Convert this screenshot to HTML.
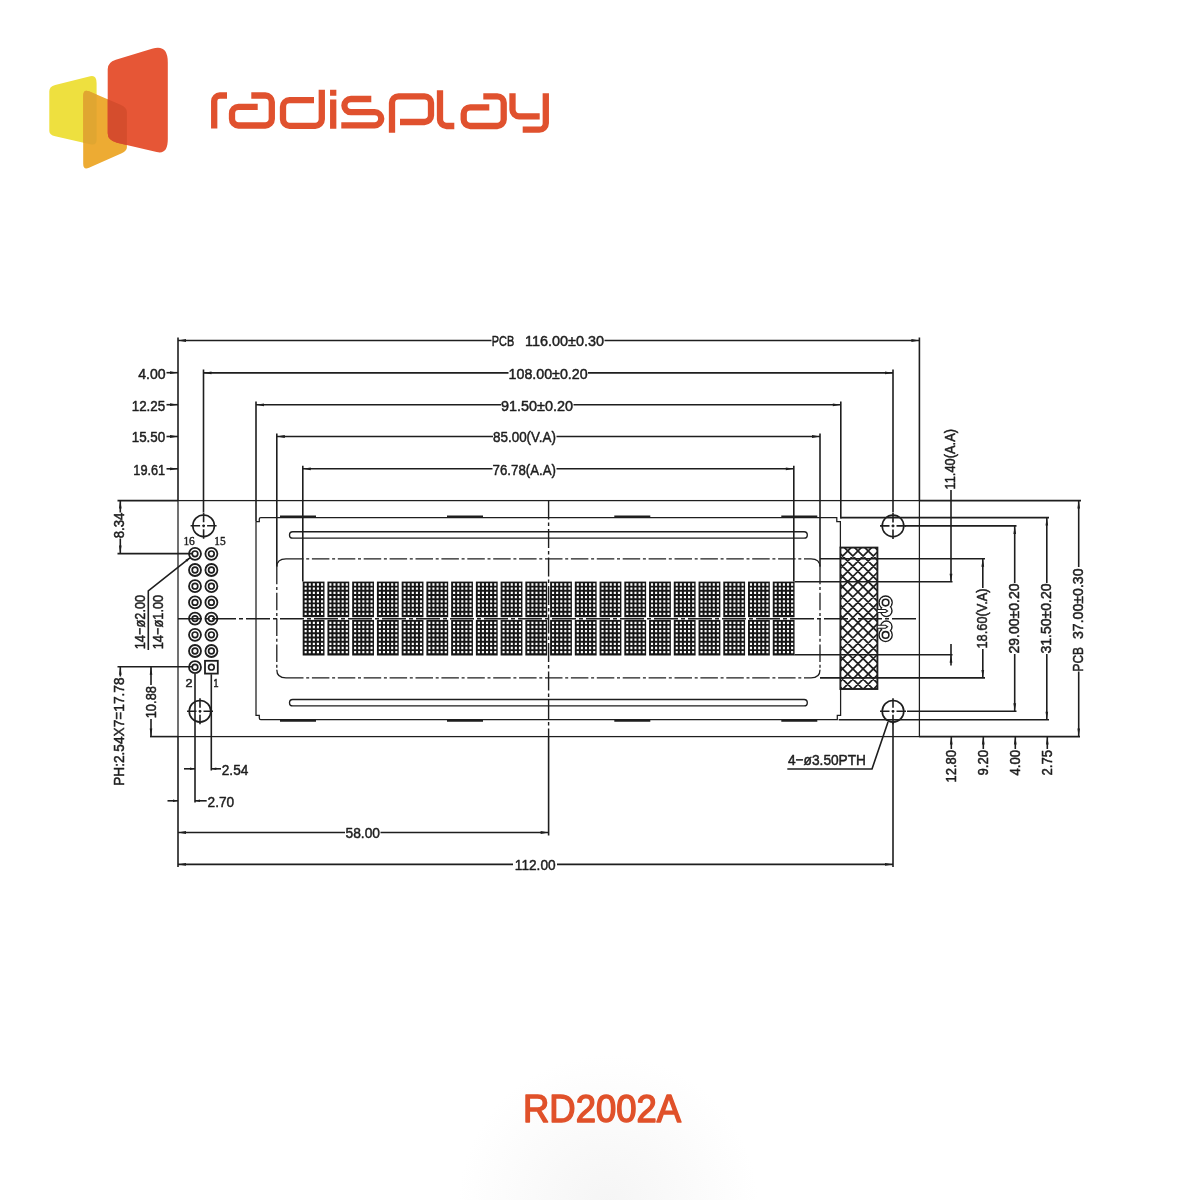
<!DOCTYPE html>
<html><head><meta charset="utf-8"><title>RD2002A</title>
<style>
html,body{margin:0;padding:0;background:#fff;}
body{width:1200px;height:1200px;overflow:hidden;font-family:"Liberation Sans",sans-serif;}
svg{display:block;will-change:transform;opacity:.999}
.f{fill:#1e1e1e;stroke:none}
</style></head><body>
<svg width="1200" height="1200" viewBox="0 0 1200 1200">
<defs><radialGradient id="bg" cx="608" cy="1205" r="150" gradientUnits="userSpaceOnUse"><stop offset="0" stop-color="#f5f5f5"/><stop offset="1" stop-color="#fff"/></radialGradient></defs>
<rect width="1200" height="1200" fill="#fff"/>
<rect x="380" y="1000" width="440" height="200" fill="url(#bg)"/>

<g>
<defs>
<path id="ly" d="M49.3 91.3Q49.3 86.4 55.2 84.9L90.2 76.2Q96.6 74.6 96.6 83.2V139.2Q96.6 145.6 91.3 144.4L55.2 136.3Q49.3 135 49.3 131Z"/>
<path id="lo" d="M83.2 96Q83.2 88.8 89 91.3L120.5 104.75Q126.9 107.5 126.9 112.3V147.3Q126.9 150.9 121.7 153.2L89 167.75Q83.2 170.3 83.2 163.7Z"/>
<path id="lr" d="M107.7 69.2Q107.7 62.3 115.8 59.8L152 48.75Q167.8 43.9 167.8 62.2V139.2Q167.8 154.6 156.7 152L117 142.7Q107.7 140.5 107.7 133.3Z"/>
<clipPath id="cy"><use href="#ly"/></clipPath>
<clipPath id="cr"><use href="#lr"/></clipPath>
</defs>
<use href="#ly" fill="#eee03f"/>
<use href="#lo" fill="#edab33"/>
<use href="#lr" fill="#e65636"/>
<use href="#lo" fill="#e0a631" clip-path="url(#cy)"/>
<use href="#lo" fill="#d54d2d" clip-path="url(#cr)"/>
</g><g fill="none" stroke="#e0512e" stroke-width="6.3" stroke-linejoin="round">
<path d="M214.2 128.6V101A5.5 5.5 0 0 1 219.7 95.5H227"/>
<path d="M251.3 95.5H265.3A6.5 6.5 0 0 1 271.8 102V119A6.5 6.5 0 0 1 265.3 125.5H238.5A6.5 6.5 0 0 1 232 119V113.3A6.5 6.5 0 0 1 238.5 106.8H257.7"/>
<path d="M314 100.2H289.5A6.5 6.5 0 0 0 283 106.7V119.3A6.5 6.5 0 0 0 289.5 125.8H315.3A6.5 6.5 0 0 0 321.8 119.3V89.7"/>
<path d="M333.2 89.7V95.8M333.2 99.5V128.7"/>
<path d="M371.3 99H351A6.6 6.6 0 0 0 351 112.2H374.7A6.55 6.55 0 0 1 374.7 125.3H341.3"/>
<path d="M392 132.7V102.8A6.5 6.5 0 0 1 398.5 96.3H424.5A6.5 6.5 0 0 1 431 102.8V115.5A6.5 6.5 0 0 1 424.5 122H400"/>
<path d="M440 90.3V119.5A6.5 6.5 0 0 0 446.5 126H454.3"/>
<path d="M483.3 96.3H497.2A6.5 6.5 0 0 1 503.7 102.8V119.5A6.5 6.5 0 0 1 497.2 126H470.2A6.5 6.5 0 0 1 463.7 119.5V113.8A6.5 6.5 0 0 1 470.2 107.3H489.3"/>
<path d="M512.5 93.3V109.8A6.5 6.5 0 0 0 519 116.3H539.7M545.8 93.3V123.2A6.5 6.5 0 0 1 539.3 129.7H522.7"/>
</g>

<g fill="none" stroke="#1e1e1e" stroke-width="1.6" stroke-linecap="butt">
<path d="M117.5 500.6L178.0 500.6" />
<path d="M919.4 500.6L1081.0 500.6" />
<path d="M150.0 736.6L178.0 736.6" />
<path d="M919.4 736.6L1080.0 736.6" />
<path d="M178.0 337.5L178.0 500.6" />
<path d="M178.0 736.6L178.0 867.0" />
<path d="M919.4 337.5L919.4 500.6" />
<rect x="178.0" y="500.6" width="741.4" height="236.0" stroke-width="1.25"/>
<path d="M178.0 340.5L491.5 340.5" />
<path d="M604.5 340.5L919.4 340.5" />
<path class="f" d="M178.0 340.5L186.0 339.1L186.0 341.9Z"/>
<path class="f" d="M919.4 340.5L911.4 341.9L911.4 339.1Z"/>
<path d="M203.5 372.9L508.5 372.9" />
<path d="M588.0 372.9L893.0 372.9" />
<path class="f" d="M203.5 372.9L211.5 371.5L211.5 374.2Z"/>
<path class="f" d="M893.0 372.9L885.0 374.2L885.0 371.5Z"/>
<path d="M256.0 404.8L501.0 404.8" />
<path d="M573.5 404.8L840.8 404.8" />
<path class="f" d="M256.0 404.8L264.0 403.4L264.0 406.2Z"/>
<path class="f" d="M840.8 404.8L832.8 406.2L832.8 403.4Z"/>
<path d="M276.8 436.5L493.0 436.5" />
<path d="M556.5 436.5L820.0 436.5" />
<path class="f" d="M276.8 436.5L284.8 435.1L284.8 437.9Z"/>
<path class="f" d="M820.0 436.5L812.0 437.9L812.0 435.1Z"/>
<path d="M302.8 468.8L492.5 468.8" />
<path d="M556.5 468.8L793.8 468.8" />
<path class="f" d="M302.8 468.8L310.8 467.4L310.8 470.2Z"/>
<path class="f" d="M793.8 468.8L785.8 470.2L785.8 467.4Z"/>
<path d="M203.5 369.5L203.5 512.5" />
<path d="M893.0 369.5L893.0 512.5" />
<path d="M256.0 401.5L256.0 521.5" />
<path d="M840.8 401.5L840.8 518.5" />
<path d="M276.8 433.5L276.8 566.8" />
<path d="M820.0 433.5L820.0 566.8" />
<path d="M302.8 465.8L302.8 581.5" />
<path d="M793.8 465.8L793.8 581.5" />
<path d="M166.5 372.7L178.0 372.7" />
<path class="f" d="M178.0 372.7L170.0 374.1L170.0 371.3Z"/>
<path d="M166.5 404.7L178.0 404.7" />
<path class="f" d="M178.0 404.7L170.0 406.1L170.0 403.3Z"/>
<path d="M166.5 436.5L178.0 436.5" />
<path class="f" d="M178.0 436.5L170.0 437.9L170.0 435.1Z"/>
<path d="M166.5 468.8L178.0 468.8" />
<path class="f" d="M178.0 468.8L170.0 470.2L170.0 467.4Z"/>
<path stroke-width="1.25" d="M256 521.5H259.3V519Q259.3 517.6 260.8 517.6H836.8V521.5H840.4V547.6"/>
<path stroke-width="1.25" d="M256 521.5V715.4H259.3V718Q259.3 719.7 260.8 719.7H837.3V715.4H840.6V689"/>
<path d="M840.4 517.6L1049.0 517.6" />
<path d="M838.7 719.7L1049.0 719.7" />
<path d="M280 516.6H316" stroke-width="2"/>
<path d="M280 720.7H316" stroke-width="2"/>
<path d="M447 516.6H483" stroke-width="2"/>
<path d="M447 720.7H483" stroke-width="2"/>
<path d="M614.3 516.6H650.3" stroke-width="2"/>
<path d="M614.3 720.7H650.3" stroke-width="2"/>
<path d="M781.3 516.6H817.3" stroke-width="2"/>
<path d="M781.3 720.7H817.3" stroke-width="2"/>
<rect x="289.5" y="531.7" width="517.8" height="6.4" rx="3.2" stroke-width="1.35"/>
<rect x="289.5" y="699.5" width="517.8" height="6.4" rx="3.2" stroke-width="1.35"/>
<path stroke-width="1.3" d="M276.8 566.8Q276.8 558.8 286 558.8"/>
<path stroke-width="1.3" d="M820 566.8Q820 558.8 811 558.8"/>
<path stroke-width="1.3" d="M276.8 669.8Q276.8 677.9 286 677.9"/>
<path stroke-width="1.3" d="M820 669.8Q820 677.9 811 677.9"/>
<path d="M286 558.8H811" stroke-width="1.3" stroke-dasharray="17.5 2.7 3 2.7"/>
<path d="M286 677.9H811" stroke-width="1.3" stroke-dasharray="17.5 2.7 3 2.7"/>
<path d="M276.8 566.8V669.8" stroke-width="1.3" stroke-dasharray="17.5 2.7 3 2.7"/>
<path d="M820 566.8V669.8" stroke-width="1.3" stroke-dasharray="17.5 2.7 3 2.7"/>
<path d="M178.0 618.7H919.4" stroke-width="1.4" stroke-dasharray="24 3 4 3"/>
<path d="M548.6 500.6V736.6" stroke-width="1.4" stroke-dasharray="19 3 3.5 3"/>
<path d="M548.6 736.6L548.6 835.5" />
<path d="M820.0 558.8L985.0 558.8" />
<path d="M820.0 677.9L985.0 677.9" />
<path d="M794.5 581.7L952.5 581.7" />
<path d="M794.5 654.8L952.5 654.8" />
<path d="M905.0 525.9L1016.5 525.9" />
<path d="M907.0 711.3L1016.5 711.3" />
<path d="M951.0 490.0L951.0 581.7" />
<path class="f" d="M951.0 581.7L949.6 573.7L952.4 573.7Z"/>
<path d="M951.0 644.0L951.0 665.5" />
<path class="f" d="M951.0 654.8L952.4 662.8L949.6 662.8Z"/>
<path d="M982.8 558.8L982.8 588.0" />
<path d="M982.8 649.0L982.8 677.9" />
<path class="f" d="M982.8 558.8L984.1 566.8L981.4 566.8Z"/>
<path class="f" d="M982.8 677.9L981.4 669.9L984.1 669.9Z"/>
<path d="M1014.7 525.9L1014.7 583.0" />
<path d="M1014.7 654.0L1014.7 711.3" />
<path class="f" d="M1014.7 525.9L1016.1 533.9L1013.4 533.9Z"/>
<path class="f" d="M1014.7 711.3L1013.4 703.3L1016.1 703.3Z"/>
<path d="M1046.8 517.6L1046.8 583.0" />
<path d="M1046.8 654.0L1046.8 719.7" />
<path class="f" d="M1046.8 517.6L1048.1 525.6L1045.5 525.6Z"/>
<path class="f" d="M1046.8 719.7L1045.5 711.7L1048.1 711.7Z"/>
<path d="M1078.7 500.6L1078.7 567.0" />
<path d="M1078.7 671.5L1078.7 736.6" />
<path class="f" d="M1078.7 500.6L1080.0 508.6L1077.4 508.6Z"/>
<path class="f" d="M1078.7 736.6L1077.4 728.6L1080.0 728.6Z"/>
<path d="M951.3 736.6L951.3 749.0" />
<path class="f" d="M951.3 736.6L952.6 744.6L949.9 744.6Z"/>
<path d="M983.3 736.6L983.3 749.0" />
<path class="f" d="M983.3 736.6L984.6 744.6L981.9 744.6Z"/>
<path d="M1015.3 736.6L1015.3 749.0" />
<path class="f" d="M1015.3 736.6L1016.6 744.6L1013.9 744.6Z"/>
<path d="M1047.3 736.6L1047.3 749.0" />
<path class="f" d="M1047.3 736.6L1048.6 744.6L1046.0 744.6Z"/>
<path d="M178.0 832.5L345.0 832.5" />
<path d="M380.5 832.5L548.6 832.5" />
<path class="f" d="M178.0 832.5L186.0 831.1L186.0 833.9Z"/>
<path class="f" d="M548.6 832.5L540.6 833.9L540.6 831.1Z"/>
<path d="M178.0 864.4L513.0 864.4" />
<path d="M557.0 864.4L893.0 864.4" />
<path class="f" d="M178.0 864.4L186.0 863.0L186.0 865.8Z"/>
<path class="f" d="M893.0 864.4L885.0 865.8L885.0 863.0Z"/>
<path d="M893.0 722.0L893.0 867.0" />
<path d="M195.0 674.0L195.0 802.5" />
<path d="M211.3 674.2L211.3 770.5" />
<path d="M184.0 768.8L195.0 768.8" />
<path class="f" d="M195.0 768.8L190.0 770.1L190.0 767.4Z"/>
<path d="M211.3 768.8L221.0 768.8" />
<path class="f" d="M211.3 768.8L216.3 767.4L216.3 770.1Z"/>
<path d="M167.5 800.8L178.0 800.8" />
<path class="f" d="M178.0 800.8L173.0 802.1L173.0 799.4Z"/>
<path d="M195.0 800.8L206.7 800.8" />
<path class="f" d="M195.0 800.8L200.0 799.4L200.0 802.1Z"/>
<path d="M117.5 553.6L192.0 553.6" />
<path d="M117.5 666.8L192.0 666.8" />
<path d="M120.3 500.6L120.3 512.5" />
<path d="M120.3 538.5L120.3 553.6" />
<path class="f" d="M120.3 500.6L121.6 508.6L119.0 508.6Z"/>
<path class="f" d="M120.3 553.6L119.0 545.6L121.6 545.6Z"/>
<path d="M120.3 666.8L120.3 676.5" />
<path class="f" d="M120.3 666.8L121.6 674.8L119.0 674.8Z"/>
<path d="M151.0 666.8L151.0 685.0" />
<path d="M151.0 719.0L151.0 736.6" />
<path class="f" d="M151.0 666.8L152.3 674.8L149.7 674.8Z"/>
<path class="f" d="M151.0 736.6L149.7 728.6L152.3 728.6Z"/>
<path d="M190.2 557.6L148.3 590.8V650"/>
<path class="f" d="M190.2 557.6L187.1 561.7L185.5 559.7Z"/>
<path d="M888 722L872 769H787.3"/>
<circle cx="203.6" cy="525.8" r="10.8"/>
<path d="M190.6 525.8H200.1M202.2 525.8H205.0M207.1 525.8H216.6M203.6 512.8V522.3M203.6 524.4V527.2M203.6 529.3V538.8"/>
<circle cx="893" cy="525.9" r="10.8"/>
<path d="M880.0 525.9H889.5M891.6 525.9H894.4M896.5 525.9H906.0M893 512.9V522.4M893 524.5V527.3M893 529.4V538.9"/>
<circle cx="200" cy="711.3" r="10.8"/>
<path d="M187.0 711.3H196.5M198.6 711.3H201.4M203.5 711.3H213.0M200 698.3V707.8M200 709.9V712.7M200 714.8V724.3"/>
<circle cx="893" cy="711.3" r="10.8"/>
<path d="M880.0 711.3H889.5M891.6 711.3H894.4M896.5 711.3H906.0M893 698.3V707.8M893 709.9V712.7M893 714.8V724.3"/>
<circle cx="195.0" cy="553.8" r="6.0" stroke-width="1.8"/>
<circle cx="195.0" cy="553.8" r="2.8" stroke-width="1.7"/>
<circle cx="211.4" cy="553.8" r="6.0" stroke-width="1.8"/>
<circle cx="211.4" cy="553.8" r="2.8" stroke-width="1.7"/>
<circle cx="195.0" cy="570.0" r="6.0" stroke-width="1.8"/>
<circle cx="195.0" cy="570.0" r="2.8" stroke-width="1.7"/>
<circle cx="211.4" cy="570.0" r="6.0" stroke-width="1.8"/>
<circle cx="211.4" cy="570.0" r="2.8" stroke-width="1.7"/>
<circle cx="195.0" cy="586.2" r="6.0" stroke-width="1.8"/>
<circle cx="195.0" cy="586.2" r="2.8" stroke-width="1.7"/>
<circle cx="211.4" cy="586.2" r="6.0" stroke-width="1.8"/>
<circle cx="211.4" cy="586.2" r="2.8" stroke-width="1.7"/>
<circle cx="195.0" cy="602.4" r="6.0" stroke-width="1.8"/>
<circle cx="195.0" cy="602.4" r="2.8" stroke-width="1.7"/>
<circle cx="211.4" cy="602.4" r="6.0" stroke-width="1.8"/>
<circle cx="211.4" cy="602.4" r="2.8" stroke-width="1.7"/>
<circle cx="195.0" cy="618.6" r="6.0" stroke-width="1.8"/>
<circle cx="195.0" cy="618.6" r="2.8" stroke-width="1.7"/>
<circle cx="211.4" cy="618.6" r="6.0" stroke-width="1.8"/>
<circle cx="211.4" cy="618.6" r="2.8" stroke-width="1.7"/>
<circle cx="195.0" cy="634.8" r="6.0" stroke-width="1.8"/>
<circle cx="195.0" cy="634.8" r="2.8" stroke-width="1.7"/>
<circle cx="211.4" cy="634.8" r="6.0" stroke-width="1.8"/>
<circle cx="211.4" cy="634.8" r="2.8" stroke-width="1.7"/>
<circle cx="195.0" cy="651.0" r="6.0" stroke-width="1.8"/>
<circle cx="195.0" cy="651.0" r="2.8" stroke-width="1.7"/>
<circle cx="211.4" cy="651.0" r="6.0" stroke-width="1.8"/>
<circle cx="211.4" cy="651.0" r="2.8" stroke-width="1.7"/>
<circle cx="195.0" cy="667.2" r="6.0" stroke-width="1.8"/>
<circle cx="195.0" cy="667.2" r="2.8" stroke-width="1.7"/>
<rect x="205.0" y="660.8" width="12.8" height="12.8" stroke-width="1.8"/>
<circle cx="211.4" cy="667.2" r="2.8" stroke-width="1.7"/>
<clipPath id="hc"><rect x="840.4" y="547.6" width="37" height="141.4"/></clipPath>
<g clip-path="url(#hc)" stroke-width="1.7">
<path d="M498.5 540L658.5 700M508.8 540L668.8 700M519.0 540L679.0 700M529.2 540L689.2 700M539.5 540L699.5 700M549.8 540L709.8 700M560.0 540L720.0 700M570.2 540L730.2 700M580.5 540L740.5 700M590.8 540L750.8 700M601.0 540L761.0 700M611.2 540L771.2 700M621.5 540L781.5 700M631.8 540L791.8 700M642.0 540L802.0 700M652.2 540L812.2 700M662.5 540L822.5 700M672.8 540L832.8 700M683.0 540L843.0 700M693.2 540L853.2 700M703.5 540L863.5 700M713.8 540L873.8 700M724.0 540L884.0 700M734.2 540L894.2 700M744.5 540L904.5 700M754.8 540L914.8 700M765.0 540L925.0 700M775.2 540L935.2 700M785.5 540L945.5 700M795.8 540L955.8 700M806.0 540L966.0 700M816.2 540L976.2 700M826.5 540L986.5 700M836.8 540L996.8 700M847.0 540L1007.0 700M857.2 540L1017.2 700M867.5 540L1027.5 700M877.8 540L1037.8 700M888.0 540L1048.0 700M898.2 540L1058.2 700M908.5 540L1068.5 700M918.8 540L1078.8 700M929.0 540L1089.0 700M939.2 540L1099.2 700M949.5 540L1109.5 700M959.8 540L1119.8 700M970.0 540L1130.0 700M980.2 540L1140.2 700M990.5 540L1150.5 700M1000.8 540L1160.8 700M1011.0 540L1171.0 700M1021.2 540L1181.2 700M1031.5 540L1191.5 700M1041.8 540L1201.8 700M1052.0 540L1212.0 700M1062.2 540L1222.2 700M1072.5 540L1232.5 700M1082.8 540L1242.8 700M1093.0 540L1253.0 700M1103.2 540L1263.2 700M581.9 540L421.9 700M592.2 540L432.2 700M602.4 540L442.4 700M612.7 540L452.7 700M622.9 540L462.9 700M633.2 540L473.2 700M643.4 540L483.4 700M653.7 540L493.7 700M663.9 540L503.9 700M674.2 540L514.2 700M684.4 540L524.4 700M694.7 540L534.7 700M704.9 540L544.9 700M715.2 540L555.2 700M725.4 540L565.4 700M735.7 540L575.7 700M745.9 540L585.9 700M756.2 540L596.2 700M766.4 540L606.4 700M776.7 540L616.7 700M786.9 540L626.9 700M797.2 540L637.2 700M807.4 540L647.4 700M817.7 540L657.7 700M827.9 540L667.9 700M838.2 540L678.2 700M848.4 540L688.4 700M858.7 540L698.7 700M868.9 540L708.9 700M879.2 540L719.2 700M889.4 540L729.4 700M899.7 540L739.7 700M909.9 540L749.9 700M920.2 540L760.2 700M930.4 540L770.4 700M940.7 540L780.7 700M950.9 540L790.9 700M961.2 540L801.2 700M971.4 540L811.4 700M981.7 540L821.7 700M991.9 540L831.9 700M1002.2 540L842.2 700M1012.4 540L852.4 700M1022.7 540L862.7 700M1032.9 540L872.9 700M1043.2 540L883.2 700M1053.4 540L893.4 700M1063.7 540L903.7 700M1073.9 540L913.9 700M1084.2 540L924.2 700M1094.4 540L934.4 700M1104.7 540L944.7 700M1114.9 540L954.9 700M1125.2 540L965.2 700M1135.4 540L975.4 700M1145.7 540L985.7 700M1155.9 540L995.9 700M1166.2 540L1006.2 700M1176.4 540L1016.4 700M1186.7 540L1026.7 700"/>
</g>
<rect x="840.4" y="547.6" width="37" height="141.4" stroke-width="1.9"/>
<circle cx="885.6" cy="602.6" r="6.5"/><circle cx="886.3" cy="610.8" r="5.6"/>
<circle cx="885.6" cy="602.6" r="5.85" fill="#fff" stroke="none"/><circle cx="886.3" cy="610.8" r="4.949999999999999" fill="#fff" stroke="none"/>
<circle cx="885.6" cy="602.6" r="3.3"/>
<path d="M877.8 609.5H885.5L887.6 611L885.5 612.5H877.8" stroke-width="1.1" fill="#fff"/>
<circle cx="885.6" cy="634.9" r="6.5"/><circle cx="886.3" cy="626.7" r="5.6"/>
<circle cx="885.6" cy="634.9" r="5.85" fill="#fff" stroke="none"/><circle cx="886.3" cy="626.7" r="4.949999999999999" fill="#fff" stroke="none"/>
<circle cx="885.6" cy="634.9" r="3.3"/>
<path d="M877.8 625.2H885.5L887.6 626.7L885.5 628.2H877.8" stroke-width="1.1" fill="#fff"/>
</g>
<defs><g id="ch"><rect width="21.8" height="35.6" fill="#161616"/>
<path fill="#fff" d="M1.90 1.75h2.1v2.3h-2.1zM6.00 1.75h2.1v2.3h-2.1zM10.10 1.75h2.1v2.3h-2.1zM14.20 1.75h2.1v2.3h-2.1zM18.30 1.75h2.1v2.3h-2.1zM1.90 5.95h2.1v2.3h-2.1zM6.00 5.95h2.1v2.3h-2.1zM10.10 5.95h2.1v2.3h-2.1zM14.20 5.95h2.1v2.3h-2.1zM18.30 5.95h2.1v2.3h-2.1zM1.90 10.15h2.1v2.3h-2.1zM6.00 10.15h2.1v2.3h-2.1zM10.10 10.15h2.1v2.3h-2.1zM14.20 10.15h2.1v2.3h-2.1zM18.30 10.15h2.1v2.3h-2.1zM1.90 14.35h2.1v2.3h-2.1zM6.00 14.35h2.1v2.3h-2.1zM10.10 14.35h2.1v2.3h-2.1zM14.20 14.35h2.1v2.3h-2.1zM18.30 14.35h2.1v2.3h-2.1zM1.90 18.55h2.1v2.3h-2.1zM6.00 18.55h2.1v2.3h-2.1zM10.10 18.55h2.1v2.3h-2.1zM14.20 18.55h2.1v2.3h-2.1zM18.30 18.55h2.1v2.3h-2.1zM1.90 22.75h2.1v2.3h-2.1zM6.00 22.75h2.1v2.3h-2.1zM10.10 22.75h2.1v2.3h-2.1zM14.20 22.75h2.1v2.3h-2.1zM18.30 22.75h2.1v2.3h-2.1zM1.90 26.95h2.1v2.3h-2.1zM6.00 26.95h2.1v2.3h-2.1zM10.10 26.95h2.1v2.3h-2.1zM14.20 26.95h2.1v2.3h-2.1zM18.30 26.95h2.1v2.3h-2.1zM1.90 31.15h2.1v2.3h-2.1zM6.00 31.15h2.1v2.3h-2.1zM10.10 31.15h2.1v2.3h-2.1zM14.20 31.15h2.1v2.3h-2.1zM18.30 31.15h2.1v2.3h-2.1z"/></g></defs>
<use href="#ch" x="302.70" y="581.6"/><use href="#ch" x="302.70" y="619.9"/>
<use href="#ch" x="327.44" y="581.6"/><use href="#ch" x="327.44" y="619.9"/>
<use href="#ch" x="352.18" y="581.6"/><use href="#ch" x="352.18" y="619.9"/>
<use href="#ch" x="376.92" y="581.6"/><use href="#ch" x="376.92" y="619.9"/>
<use href="#ch" x="401.66" y="581.6"/><use href="#ch" x="401.66" y="619.9"/>
<use href="#ch" x="426.40" y="581.6"/><use href="#ch" x="426.40" y="619.9"/>
<use href="#ch" x="451.14" y="581.6"/><use href="#ch" x="451.14" y="619.9"/>
<use href="#ch" x="475.88" y="581.6"/><use href="#ch" x="475.88" y="619.9"/>
<use href="#ch" x="500.62" y="581.6"/><use href="#ch" x="500.62" y="619.9"/>
<use href="#ch" x="525.36" y="581.6"/><use href="#ch" x="525.36" y="619.9"/>
<use href="#ch" x="550.10" y="581.6"/><use href="#ch" x="550.10" y="619.9"/>
<use href="#ch" x="574.84" y="581.6"/><use href="#ch" x="574.84" y="619.9"/>
<use href="#ch" x="599.58" y="581.6"/><use href="#ch" x="599.58" y="619.9"/>
<use href="#ch" x="624.32" y="581.6"/><use href="#ch" x="624.32" y="619.9"/>
<use href="#ch" x="649.06" y="581.6"/><use href="#ch" x="649.06" y="619.9"/>
<use href="#ch" x="673.80" y="581.6"/><use href="#ch" x="673.80" y="619.9"/>
<use href="#ch" x="698.54" y="581.6"/><use href="#ch" x="698.54" y="619.9"/>
<use href="#ch" x="723.28" y="581.6"/><use href="#ch" x="723.28" y="619.9"/>
<use href="#ch" x="748.02" y="581.6"/><use href="#ch" x="748.02" y="619.9"/>
<use href="#ch" x="772.76" y="581.6"/><use href="#ch" x="772.76" y="619.9"/>
<g fill="#1e1e1e" font-family="Liberation Sans, sans-serif" font-size="15.1" stroke="#1e1e1e" stroke-width="0.5" stroke-linejoin="round">
<text x="491.8" y="346.4" font-size="15.1" textLength="22.4" lengthAdjust="spacingAndGlyphs">PCB</text>
<text x="525.0" y="346.4" font-size="15.1" textLength="79.0" lengthAdjust="spacingAndGlyphs">116.00±0.30</text>
<text x="508.6" y="378.6" font-size="15.1" textLength="79.0" lengthAdjust="spacingAndGlyphs">108.00±0.20</text>
<text x="501.0" y="410.6" font-size="15.1" textLength="72.0" lengthAdjust="spacingAndGlyphs">91.50±0.20</text>
<text x="493.0" y="442.4" font-size="15.1" textLength="63.0" lengthAdjust="spacingAndGlyphs">85.00(V.A)</text>
<text x="492.6" y="474.7" font-size="15.1" textLength="63.4" lengthAdjust="spacingAndGlyphs">76.78(A.A)</text>
<text x="138.3" y="378.6" font-size="15.1" textLength="27.4" lengthAdjust="spacingAndGlyphs">4.00</text>
<text x="131.7" y="410.6" font-size="15.1" textLength="33.5" lengthAdjust="spacingAndGlyphs">12.25</text>
<text x="131.7" y="442.4" font-size="15.1" textLength="33.5" lengthAdjust="spacingAndGlyphs">15.50</text>
<text x="133.3" y="474.7" font-size="15.1" textLength="31.9" lengthAdjust="spacingAndGlyphs">19.61</text>
<text x="345.5" y="837.9" font-size="15.1" textLength="34.5" lengthAdjust="spacingAndGlyphs">58.00</text>
<text x="514.8" y="869.9" font-size="15.1" textLength="40.8" lengthAdjust="spacingAndGlyphs">112.00</text>
<text x="221.8" y="774.7" font-size="15.1" textLength="26.5" lengthAdjust="spacingAndGlyphs">2.54</text>
<text x="207.6" y="806.7" font-size="15.1" textLength="26.6" lengthAdjust="spacingAndGlyphs">2.70</text>
<text x="788.0" y="764.9" font-size="15.1" textLength="78.0" lengthAdjust="spacingAndGlyphs">4&#8722;ø3.50PTH</text>
<text x="955.4" y="489.5" font-size="15.1" textLength="60.5" lengthAdjust="spacingAndGlyphs" transform="rotate(-90 955.4 489.5)">11.40(A.A)</text>
<text x="987.2" y="648.5" font-size="15.1" textLength="60.0" lengthAdjust="spacingAndGlyphs" transform="rotate(-90 987.2 648.5)">18.60(V.A)</text>
<text x="1019.1" y="653.5" font-size="15.1" textLength="70.0" lengthAdjust="spacingAndGlyphs" transform="rotate(-90 1019.1 653.5)">29.00±0.20</text>
<text x="1051.2" y="653.5" font-size="15.1" textLength="70.0" lengthAdjust="spacingAndGlyphs" transform="rotate(-90 1051.2 653.5)">31.50±0.20</text>
<text x="1083.1" y="671.5" font-size="15.1" textLength="24.5" lengthAdjust="spacingAndGlyphs" transform="rotate(-90 1083.1 671.5)">PCB</text>
<text x="1083.1" y="639.0" font-size="15.1" textLength="70.5" lengthAdjust="spacingAndGlyphs" transform="rotate(-90 1083.1 639.0)">37.00±0.30</text>
<text x="955.7" y="782.5" font-size="15.1" textLength="32.5" lengthAdjust="spacingAndGlyphs" transform="rotate(-90 955.7 782.5)">12.80</text>
<text x="987.7" y="775.5" font-size="15.1" textLength="25.5" lengthAdjust="spacingAndGlyphs" transform="rotate(-90 987.7 775.5)">9.20</text>
<text x="1019.7" y="775.5" font-size="15.1" textLength="25.5" lengthAdjust="spacingAndGlyphs" transform="rotate(-90 1019.7 775.5)">4.00</text>
<text x="1051.7" y="775.5" font-size="15.1" textLength="25.5" lengthAdjust="spacingAndGlyphs" transform="rotate(-90 1051.7 775.5)">2.75</text>
<text x="124.0" y="538.2" font-size="15.1" textLength="25.6" lengthAdjust="spacingAndGlyphs" transform="rotate(-90 124.0 538.2)">8.34</text>
<text x="156.4" y="718.3" font-size="15.1" textLength="32.3" lengthAdjust="spacingAndGlyphs" transform="rotate(-90 156.4 718.3)">10.88</text>
<text x="123.7" y="785.8" font-size="15.1" textLength="108.3" lengthAdjust="spacingAndGlyphs" transform="rotate(-90 123.7 785.8)">PH:2.54X7=17.78</text>
<text x="145.4" y="649.3" font-size="15.1" textLength="54.5" lengthAdjust="spacingAndGlyphs" transform="rotate(-90 145.4 649.3)">14&#8722;ø2.00</text>
<text x="163.4" y="649.3" font-size="15.1" textLength="54.5" lengthAdjust="spacingAndGlyphs" transform="rotate(-90 163.4 649.3)">14&#8722;ø1.00</text>
<text x="183.4" y="545.3" font-size="12.8" textLength="11.4" lengthAdjust="spacingAndGlyphs" font-family="Liberation Serif, serif" stroke-width="0.45">16</text>
<text x="214.2" y="545.3" font-size="12.8" textLength="11.4" lengthAdjust="spacingAndGlyphs" font-family="Liberation Serif, serif" stroke-width="0.45">15</text>
<text x="185.6" y="687.2" font-size="11.5" textLength="7.0" lengthAdjust="spacingAndGlyphs">2</text>
<text x="213.6" y="687.2" font-size="11.5" textLength="5.0" lengthAdjust="spacingAndGlyphs">1</text>
</g>
<text x="523" y="1121.8" font-family="Liberation Sans, sans-serif" font-size="39.1" fill="#e0512a" stroke="#e0512a" stroke-width="1.5" stroke-linejoin="round" textLength="158" lengthAdjust="spacingAndGlyphs">RD2002A</text>
</svg>
</body></html>
